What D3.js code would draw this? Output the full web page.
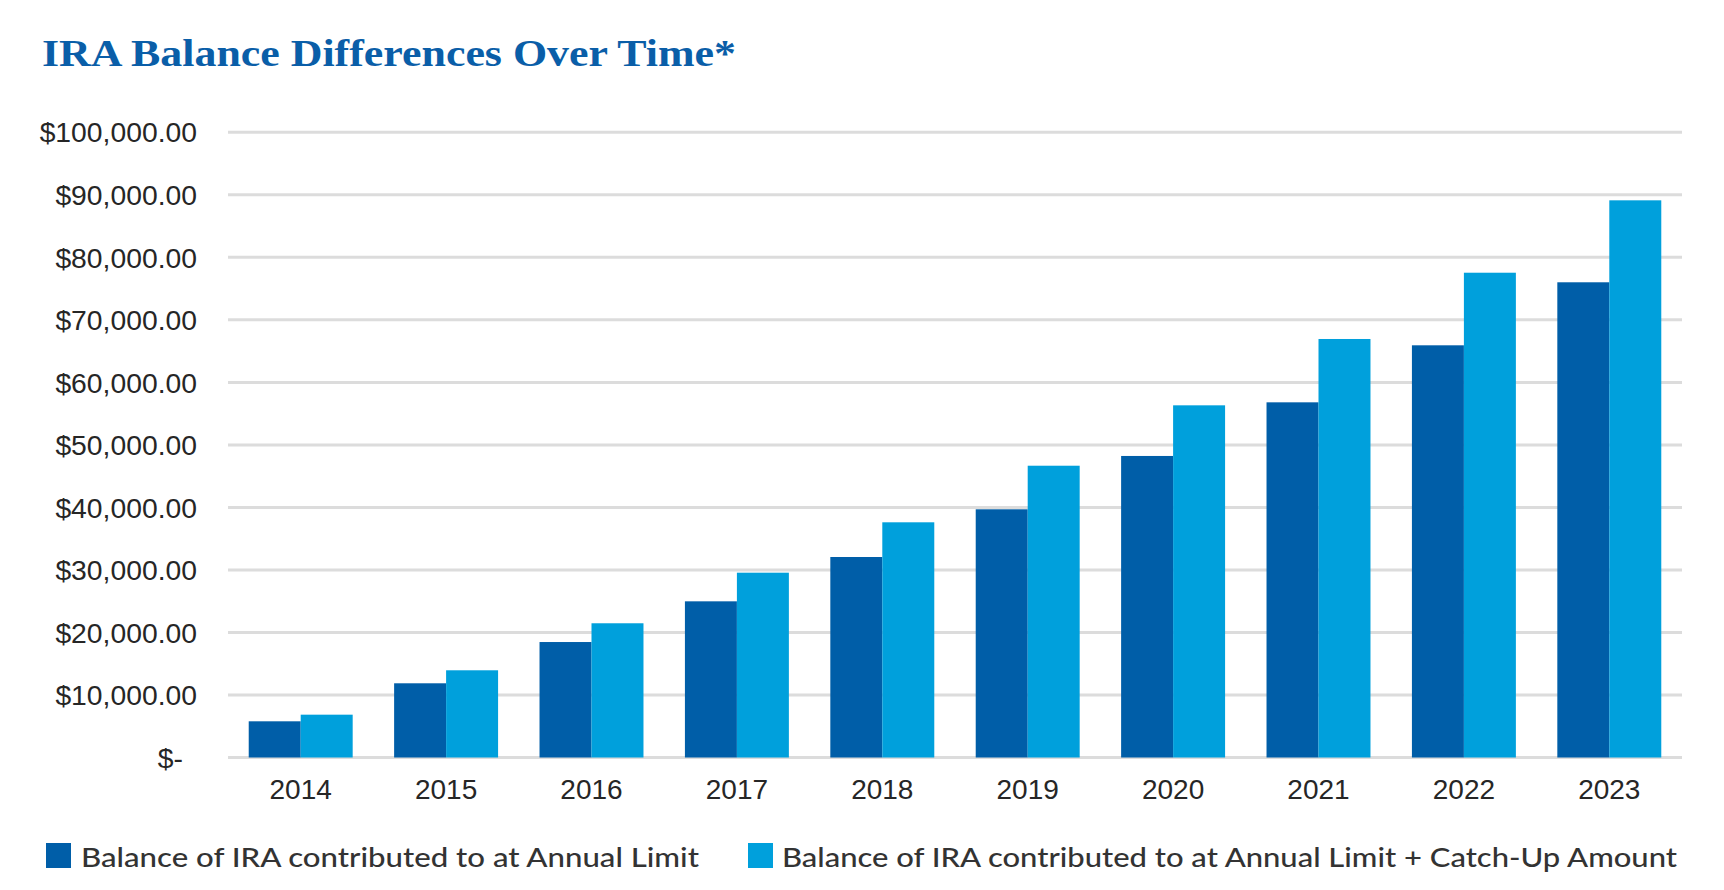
<!DOCTYPE html>
<html lang="en">
  <head>
    <meta charset="utf-8">
    <title>IRA Balance Differences Over Time</title>
    <script src="https://d3js.org/d3.v7.min.js"></script>
    <style>
      body { margin: 0; background: #fff; }
      .grid line { stroke: #dcdcdc; stroke-width: 3; }
      .ylabel { font: 28.3px "Liberation Sans", Arial, sans-serif; fill: #262626; text-anchor: end; }
      .xlabel { font: 28px "Liberation Sans", Arial, sans-serif; fill: #262626; text-anchor: middle; }
      .title { font: bold 38px "Liberation Serif", "DejaVu Serif", serif; fill: #0a5ea8; }
      .legend text { font: 500 27px Lato, "Open Sans", sans-serif; fill: #333; }
    </style>
  </head>
  <body>
    <div id="chart"></div>

    <script type="text/javascript">
      "use strict"

      // dados
      const years = ["2014", "2015", "2016", "2017", "2018", "2019", "2020", "2021", "2022", "2023"];
      const annualLimit = [5790, 11870, 18470, 24980, 32070, 39700, 48230, 56810, 65930, 76010];
      const withCatchUp = [6850, 13950, 21470, 29560, 37620, 46670, 56330, 66940, 77540, 89120];
      const yTicks = [0, 10000, 20000, 30000, 40000, 50000, 60000, 70000, 80000, 90000, 100000];
      const seriesNames = ["Balance of IRA contributed to at Annual Limit",
                           "Balance of IRA contributed to at Annual Limit + Catch-Up Amount"];
      const seriesColors = ["#005ea8", "#00a0dc"];

      var larguraSVG = 1724, alturaSVG = 890;
      var plot = {left: 228, right: 1682, top: 132.3, bottom: 757.5};

      var svg = d3.select("#chart")
        .append("svg")
          .attr("width", larguraSVG)
          .attr("height", alturaSVG);

      var x0 = d3.scaleBand()
        .domain(years)
        .range([plot.left, plot.right])
        .paddingInner(0.285)
        .paddingOuter(0.1425);

      var x1 = d3.scaleBand()
        .domain([0, 1])
        .range([0, x0.bandwidth()]);

      var y = d3.scaleLinear()
        .domain([0, 100000])
        .range([plot.bottom, plot.top]);

      // titulo
      svg.append("text")
        .attr("class", "title")
        .attr("x", 42)
        .attr("y", 66)
        .attr("textLength", 694)
        .attr("lengthAdjust", "spacingAndGlyphs")
        .text("IRA Balance Differences Over Time*");

      // linhas de grade
      svg.append("g")
        .attr("class", "grid")
        .selectAll("line")
        .data(yTicks)
        .enter()
          .append("line")
          .attr("x1", plot.left)
          .attr("x2", plot.right)
          .attr("y1", d => y(d))
          .attr("y2", d => y(d));

      // rotulos do eixo y
      var fmt = d3.format("$,.2f");
      svg.append("g")
        .selectAll("text")
        .data(yTicks)
        .enter()
          .append("text")
          .attr("class", "ylabel")
          .attr("x", d => d === 0 ? 183 : 197)
          .attr("y", d => y(d))
          .attr("dy", "0.36em")
          .text(d => d === 0 ? "$-" : fmt(d));

      // barras
      var grupos = svg.append("g")
        .selectAll("g")
        .data(years)
        .enter()
          .append("g")
          .attr("transform", d => "translate(" + x0(d) + ",0)");

      grupos.selectAll("rect")
        .data((d, i) => [annualLimit[i], withCatchUp[i]])
        .enter()
          .append("rect")
          .attr("x", (d, j) => x1(j))
          .attr("width", x1.bandwidth())
          .attr("y", d => y(d))
          .attr("height", d => y(0) - y(d))
          .attr("fill", (d, j) => seriesColors[j]);

      // rotulos do eixo x
      svg.append("g")
        .selectAll("text")
        .data(years)
        .enter()
          .append("text")
          .attr("class", "xlabel")
          .attr("x", d => x0(d) + x0.bandwidth() / 2)
          .attr("y", 799)
          .text(d => d);

      // legenda
      var legendPos = [{sq: 46, tx: 81, w: 618}, {sq: 748, tx: 782, w: 895}];
      var legenda = svg.append("g")
        .attr("class", "legend")
        .selectAll("g")
        .data(seriesNames)
        .enter()
          .append("g");

      legenda.append("rect")
        .attr("x", (d, i) => legendPos[i].sq)
        .attr("y", 843)
        .attr("width", 25)
        .attr("height", 25)
        .attr("fill", (d, i) => seriesColors[i]);

      legenda.append("text")
        .attr("x", (d, i) => legendPos[i].tx)
        .attr("y", 867)
        .attr("textLength", (d, i) => legendPos[i].w)
        .attr("lengthAdjust", "spacingAndGlyphs")
        .text(d => d);
    </script>
  </body>
</html>
